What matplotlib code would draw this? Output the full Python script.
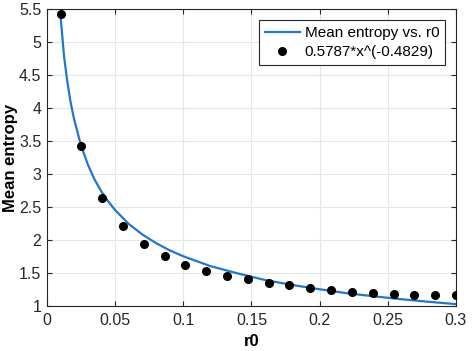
import matplotlib
matplotlib.use("Agg")
import matplotlib.pyplot as plt
from matplotlib.ticker import FixedLocator, FixedFormatter

# Fitted curve
line_x = [0.01, 0.0125, 0.015, 0.0175, 0.02, 0.025, 0.03, 0.035, 0.04, 0.045,
          0.05, 0.06, 0.07, 0.08, 0.09, 0.10, 0.12, 0.14, 0.16, 0.18,
          0.20, 0.22, 0.24, 0.26, 0.28, 0.30]
line_y = [5.40, 4.80, 4.40, 4.08, 3.83, 3.44, 3.15, 2.92, 2.74, 2.59,
          2.46, 2.25, 2.09, 1.96, 1.85, 1.76, 1.61, 1.50, 1.40, 1.325,
          1.26, 1.20, 1.153, 1.109, 1.070, 1.035]

# Data points
dot_x = [0.0100, 0.0253, 0.0405, 0.0558, 0.0711, 0.0863, 0.1016, 0.1168, 0.1321, 0.1474,
         0.1626, 0.1779, 0.1932, 0.2084, 0.2237, 0.2389, 0.2542, 0.2695, 0.2847, 0.3000]
dot_y = [5.43, 3.43, 2.65, 2.22, 1.95, 1.76, 1.63, 1.53, 1.46, 1.41,
         1.36, 1.33, 1.28, 1.25, 1.22, 1.20, 1.19, 1.18, 1.17, 1.17]

x_ticks = [0, 0.05, 0.1, 0.15, 0.2, 0.25, 0.3]
x_tick_labels = ["0", "0.05", "0.1", "0.15", "0.2", "0.25", "0.3"]
y_ticks = [1, 1.5, 2, 2.5, 3, 3.5, 4, 4.5, 5, 5.5]
y_tick_labels = ["1", "1.5", "2", "2.5", "3", "3.5", "4", "4.5", "5", "5.5"]

plt.rcParams['font.family'] = ['Liberation Sans', 'DejaVu Sans']

fig = plt.figure(figsize=(4.74, 3.51), dpi=100)
ax = fig.add_axes([0.099, 0.127, 0.863, 0.846])

ax.plot(line_x, line_y, color='#1f77d0', linewidth=1.6, label='Mean entropy vs. r0', zorder=3)
ax.plot(dot_x, dot_y, linestyle='none', marker='o', markersize=5.5, color='black',
        label='0.5787*x^(-0.4829)', zorder=4)

ax.set_xlim(0, 0.3)
ax.set_ylim(1, 5.5)
ax.xaxis.set_major_locator(FixedLocator(x_ticks))
ax.xaxis.set_major_formatter(FixedFormatter(x_tick_labels))
ax.yaxis.set_major_locator(FixedLocator(y_ticks))
ax.yaxis.set_major_formatter(FixedFormatter(y_tick_labels))

ax.grid(True, color='#e6e6e6', linewidth=0.8)
ax.set_axisbelow(True)
ax.tick_params(direction='in', top=True, right=True, length=3.5, width=0.8,
               labelsize=11.5, colors='#262626')
ax.tick_params(axis='x', pad=5)
ax.tick_params(axis='y', pad=4)
for s in ax.spines.values():
    s.set_color('#262626')
    s.set_linewidth(0.8)

ax.set_xlabel('r0', fontsize=12, fontweight='bold', labelpad=4)
ax.set_ylabel('Mean entropy', fontsize=12, fontweight='bold', labelpad=1)

leg = ax.legend(loc='upper right', fontsize=11, frameon=True, fancybox=False,
                edgecolor='#262626', framealpha=1, borderpad=0.4, labelspacing=0.3,
                handlelength=2.3, handletextpad=0.3, borderaxespad=0.7)
leg.get_frame().set_linewidth(0.8)

fig.savefig('out.png', dpi=100)
